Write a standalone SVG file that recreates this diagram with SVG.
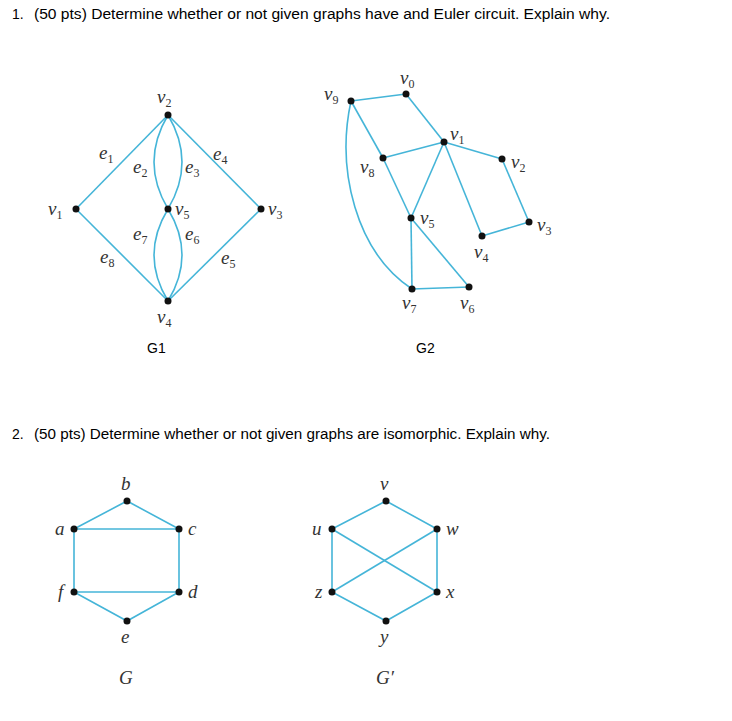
<svg xmlns="http://www.w3.org/2000/svg" width="732" height="721" viewBox="0 0 732 721">
<style>
.e{stroke:#45b5d8;stroke-width:1.6;fill:none}
.n{fill:#111}
.l{font-family:"Liberation Serif",serif;font-style:italic;font-size:19px;fill:#333}
.s{font-size:12px;font-style:normal}
.h{font-family:"Liberation Sans",sans-serif;font-size:14px;fill:#000}
.g{font-family:"Liberation Sans",sans-serif;font-size:14px;fill:#000}
.gi{font-family:"Liberation Serif",serif;font-style:italic;font-size:19px;fill:#333}
</style>
<rect width="732" height="721" fill="#fff"/>
<text class="h" x="12" y="19">1.</text>
<text class="h" x="34" y="19" textLength="576" lengthAdjust="spacingAndGlyphs">(50 pts) Determine whether or not given graphs have and Euler circuit. Explain why.</text>
<text class="h" x="12" y="439">2.</text>
<text class="h" x="34" y="439" textLength="516" lengthAdjust="spacingAndGlyphs">(50 pts) Determine whether or not given graphs are isomorphic. Explain why.</text>
<g id="connectors">
<line class="e" x1="168" y1="115" x2="76" y2="209"/>
<line class="e" x1="168" y1="115" x2="261" y2="209"/>
<line class="e" x1="76" y1="209" x2="168" y2="301"/>
<line class="e" x1="261" y1="209" x2="168" y2="301"/>
<path class="e" d="M168,115 Q140,162 168,209"/>
<path class="e" d="M168,115 Q196,162 168,209"/>
<path class="e" d="M168,209 Q140,255 168,301"/>
<path class="e" d="M168,209 Q196,255 168,301"/>
<line class="e" x1="351" y1="101" x2="406" y2="94"/>
<line class="e" x1="406" y1="94" x2="444" y2="142"/>
<line class="e" x1="351" y1="101" x2="383" y2="158"/>
<line class="e" x1="383" y1="158" x2="444" y2="142"/>
<line class="e" x1="444" y1="142" x2="502" y2="159"/>
<line class="e" x1="502" y1="159" x2="529" y2="222"/>
<line class="e" x1="529" y1="222" x2="482" y2="236"/>
<line class="e" x1="444" y1="142" x2="482" y2="236"/>
<line class="e" x1="444" y1="142" x2="411" y2="218"/>
<line class="e" x1="383" y1="158" x2="411" y2="218"/>
<line class="e" x1="411" y1="218" x2="412" y2="289"/>
<line class="e" x1="411" y1="218" x2="469" y2="287"/>
<line class="e" x1="412" y1="289" x2="469" y2="287"/>
<path class="e" d="M351,101 C336,170 356,252 412,289"/>
<polyline class="e" points="74,529 127,501 179,529 179,592 127,621 74,592 74,529 179,529"/>
<line class="e" x1="74" y1="592" x2="179" y2="592"/>
<polyline class="e" points="332,529 386,501 437,529 437,592 386,621 332,592 332,529"/>
<line class="e" x1="332" y1="529" x2="437" y2="592"/>
<line class="e" x1="437" y1="529" x2="332" y2="592"/>
</g>
<g id="G1">
<g id="v1"><circle class="n" cx="76" cy="209" r="3.5"/><text class="l" x="48" y="215">v<tspan class="s" dy="4">1</tspan></text></g>
<g id="v2"><circle class="n" cx="168" cy="115" r="3.5"/><text class="l" x="157" y="103">v<tspan class="s" dy="4">2</tspan></text></g>
<g id="v3"><circle class="n" cx="261" cy="209" r="3.5"/><text class="l" x="268" y="215">v<tspan class="s" dy="4">3</tspan></text></g>
<g id="v4"><circle class="n" cx="168" cy="301" r="3.5"/><text class="l" x="157" y="323">v<tspan class="s" dy="4">4</tspan></text></g>
<g id="v5"><circle class="n" cx="168" cy="209" r="3.5"/><text class="l" x="175" y="215">v<tspan class="s" dy="4">5</tspan></text></g>
<text class="l" x="99" y="159">e<tspan class="s" dy="4">1</tspan></text>
<text class="l" x="133" y="173">e<tspan class="s" dy="4">2</tspan></text>
<text class="l" x="185" y="173">e<tspan class="s" dy="4">3</tspan></text>
<text class="l" x="213" y="160">e<tspan class="s" dy="4">4</tspan></text>
<text class="l" x="221" y="264">e<tspan class="s" dy="4">5</tspan></text>
<text class="l" x="185" y="240">e<tspan class="s" dy="4">6</tspan></text>
<text class="l" x="133" y="240">e<tspan class="s" dy="4">7</tspan></text>
<text class="l" x="100" y="263">e<tspan class="s" dy="4">8</tspan></text>
<text class="g" x="147" y="353">G1</text>
</g>
<g id="G2">
<g id="u0"><circle class="n" cx="406" cy="94" r="3.5"/><text class="l" x="400" y="84">v<tspan class="s" dy="4">0</tspan></text></g>
<g id="u1"><circle class="n" cx="444" cy="142" r="3.5"/><text class="l" x="450" y="140">v<tspan class="s" dy="4">1</tspan></text></g>
<g id="u2"><circle class="n" cx="502" cy="159" r="3.5"/><text class="l" x="511" y="168">v<tspan class="s" dy="4">2</tspan></text></g>
<g id="u3"><circle class="n" cx="529" cy="222" r="3.5"/><text class="l" x="537" y="231">v<tspan class="s" dy="4">3</tspan></text></g>
<g id="u4"><circle class="n" cx="482" cy="236" r="3.5"/><text class="l" x="474" y="258">v<tspan class="s" dy="4">4</tspan></text></g>
<g id="u5"><circle class="n" cx="411" cy="218" r="3.5"/><text class="l" x="420" y="224">v<tspan class="s" dy="4">5</tspan></text></g>
<g id="u6"><circle class="n" cx="469" cy="287" r="3.5"/><text class="l" x="460" y="309">v<tspan class="s" dy="4">6</tspan></text></g>
<g id="u7"><circle class="n" cx="412" cy="289" r="3.5"/><text class="l" x="402" y="309">v<tspan class="s" dy="4">7</tspan></text></g>
<g id="u8"><circle class="n" cx="383" cy="158" r="3.5"/><text class="l" x="360" y="173">v<tspan class="s" dy="4">8</tspan></text></g>
<g id="u9"><circle class="n" cx="351" cy="101" r="3.5"/><text class="l" x="324" y="100">v<tspan class="s" dy="4">9</tspan></text></g>
<text class="g" x="416" y="353">G2</text>
</g>
<g id="G">
<g id="a"><circle class="n" cx="74" cy="529" r="3.5"/><text class="l" x="55" y="535">a</text></g>
<g id="b"><circle class="n" cx="127" cy="501" r="3.5"/><text class="l" x="121" y="490">b</text></g>
<g id="c"><circle class="n" cx="179" cy="529" r="3.5"/><text class="l" x="188" y="535">c</text></g>
<g id="d"><circle class="n" cx="179" cy="592" r="3.5"/><text class="l" x="188" y="598">d</text></g>
<g id="e"><circle class="n" cx="127" cy="621" r="3.5"/><text class="l" x="121" y="643">e</text></g>
<g id="f"><circle class="n" cx="74" cy="592" r="3.5"/><text class="l" x="58" y="598">f</text></g>
<text class="gi" x="119" y="684">G</text>
</g>
<g id="Gp">
<g id="u"><circle class="n" cx="332" cy="529" r="3.5"/><text class="l" x="312" y="535">u</text></g>
<g id="v"><circle class="n" cx="386" cy="501" r="3.5"/><text class="l" x="380" y="490">v</text></g>
<g id="w"><circle class="n" cx="437" cy="529" r="3.5"/><text class="l" x="446" y="535">w</text></g>
<g id="x"><circle class="n" cx="437" cy="592" r="3.5"/><text class="l" x="446" y="598">x</text></g>
<g id="y"><circle class="n" cx="386" cy="621" r="3.5"/><text class="l" x="380" y="643">y</text></g>
<g id="z"><circle class="n" cx="332" cy="592" r="3.5"/><text class="l" x="315" y="598">z</text></g>
<text class="gi" x="376" y="684">G′</text>
</g>
</svg>
